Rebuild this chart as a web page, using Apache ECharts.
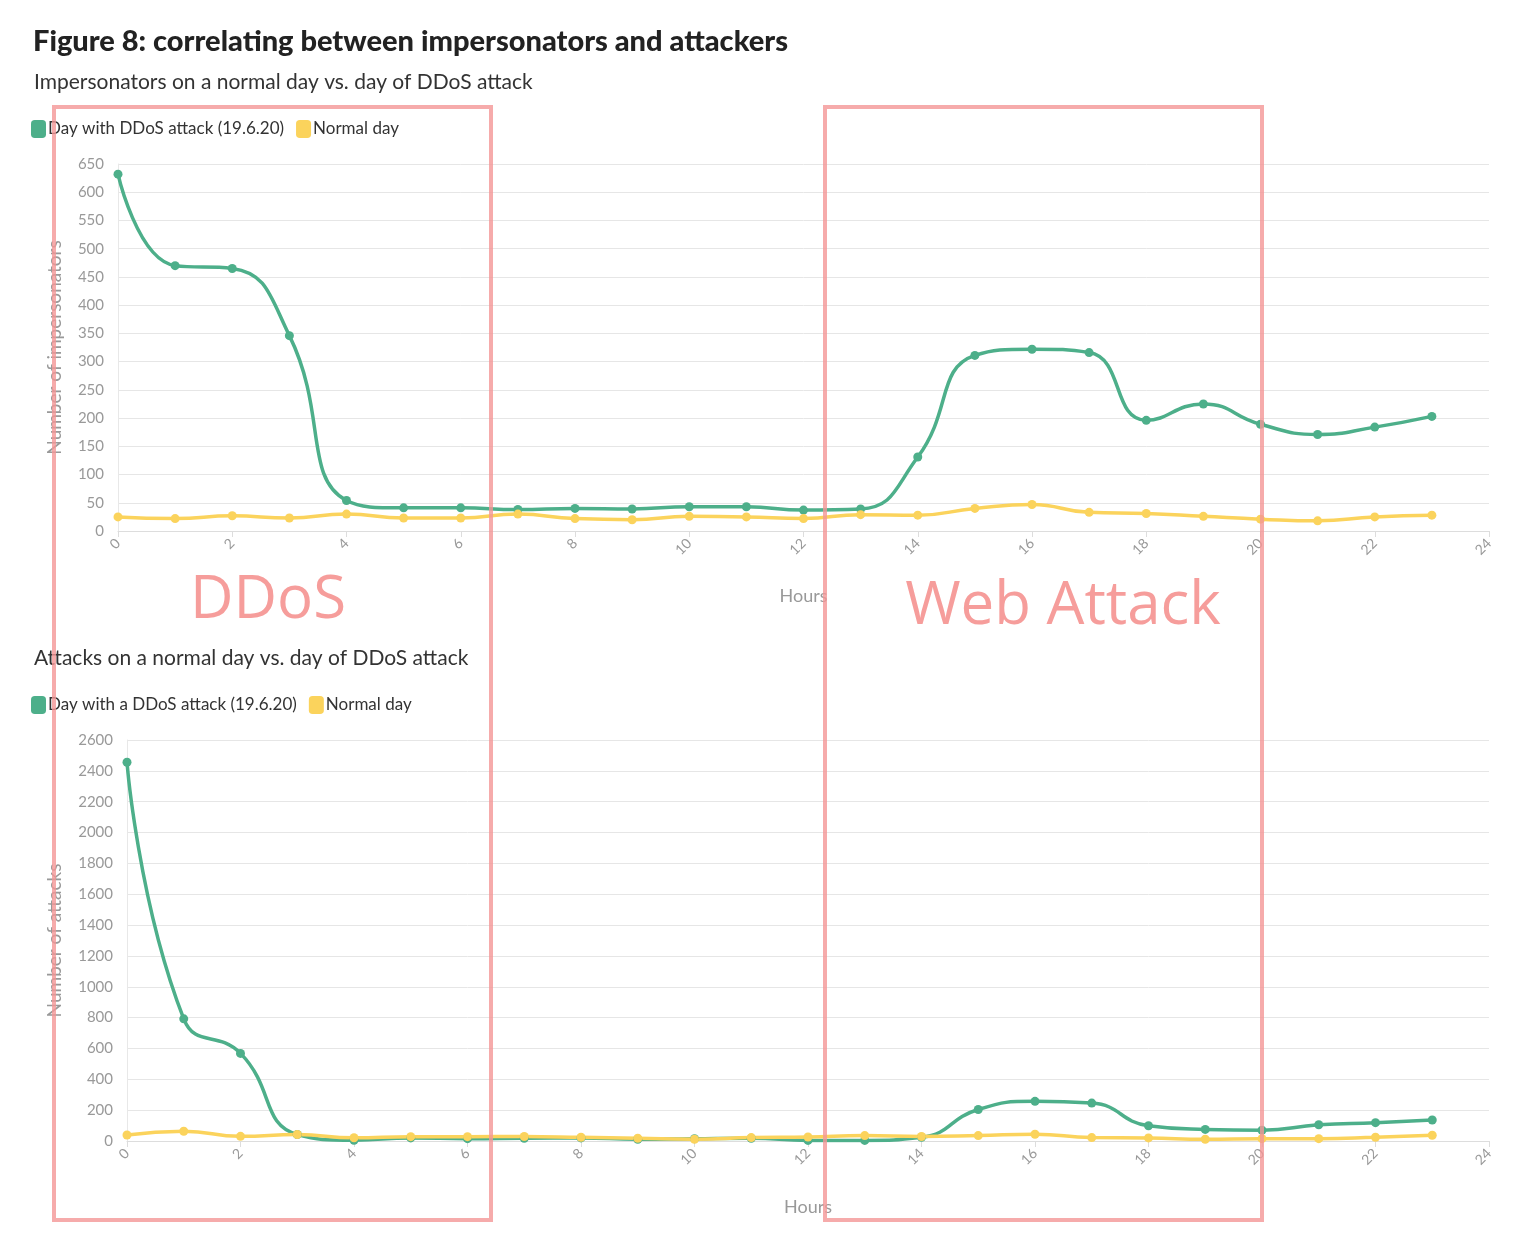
<!DOCTYPE html>
<html>
<head>
<meta charset="utf-8">
<script src="https://cdn.jsdelivr.net/npm/echarts@6/dist/echarts.min.js"></script>
<style>
html,body{margin:0;padding:0;background:#fff;}
#chart{width:1536px;height:1260px;}
</style>
</head>
<body>
<div id="chart"></div>
<script>
const hours = [0,1,2,3,4,5,6,7,8,9,10,11,12,13,14,15,16,17,18,19,20,21,22,23];
const impDDoS = [632,470,465,346,54,41,41,38,40,39,43,43,37,39,131,311,322,316,196,225,189,171,184,203];
const impNormal = [25,22,27,23,30,23,23,30,22,20,26,25,22,29,28,40,47,33,31,26,21,18,25,28];
const attDDoS = [2456,792,568,42,5,20,15,18,20,11,15,18,4,4,24,204,257,246,99,75,70,105,119,136];
const attNormal = [39,63,30,42,21,28,28,29,24,18,11,22,26,35,29,35,44,22,20,11,15,15,24,37];

const FONT = 'Lato';
const GREEN = '#4daf8a';
const YELLOW = '#fbd35c';
const pairs = (arr) => hours.map((h, i) => [h, arr[i]]);

const chart = echarts.init(document.getElementById('chart'));

function xAxisFor(gridIndex, gap) {
  return {
    type: 'value', gridIndex, min: 0, max: 24, interval: 2,
    name: 'Hours', nameLocation: 'middle', nameGap: gap,
    nameTextStyle: {color: '#999', fontSize: 18, fontFamily: FONT},
    axisLine: {show: true, lineStyle: {color: '#ddd'}},
    axisTick: {show: true, lineStyle: {color: '#ddd'}, length: 6},
    axisLabel: {rotate: 45, color: '#999', fontSize: 14, fontFamily: FONT, margin: 10},
    splitLine: {show: false}
  };
}
function yAxisFor(gridIndex, max, interval, name, gap) {
  return {
    type: 'value', gridIndex, min: 0, max, interval,
    name, nameLocation: 'middle', nameGap: gap,
    nameTextStyle: {color: '#999', fontSize: 19, fontFamily: FONT},
    axisLine: {show: true, lineStyle: {color: '#e8e8e8'}},
    axisTick: {show: false},
    axisLabel: {color: '#999', fontSize: 15, fontFamily: FONT, margin: 14, formatter: (v) => String(v)},
    splitLine: {show: true, lineStyle: {color: '#e6e6e6', width: 1}}
  };
}
function line(name, data, color, xi, yi) {
  return {
    name, type: 'line', xAxisIndex: xi, yAxisIndex: yi, data,
    smooth: 0.5, symbol: 'circle', symbolSize: 9, showSymbol: true,
    lineStyle: {color, width: 3.5}, itemStyle: {color}
  };
}

const boxStyle = {fill: 'none', stroke: 'rgba(244,150,150,0.8)', lineWidth: 4};
const annoStyle = {fill: '#f69d9b', fontFamily: 'Open Sans', fontSize: 60};
const legendText = {fontFamily: FONT, fontSize: 17, color: '#333', padding: [0,0,0,-3]};

chart.setOption({
  animation: false,
  backgroundColor: '#fff',
  title: [
    {text: 'Figure 8: correlating between impersonators and attackers', left: 28, top: 22,
     textStyle: {fontFamily: FONT, fontWeight: 900, fontSize: 29, color: '#222'}},
    {text: 'Impersonators on a normal day vs. day of DDoS attack', left: 29, top: 67,
     textStyle: {fontFamily: FONT, fontWeight: 'normal', fontSize: 21, color: '#333'}},
    {text: 'Attacks on a normal day vs. day of DDoS attack', left: 29, top: 643,
     textStyle: {fontFamily: FONT, fontWeight: 'normal', fontSize: 21, color: '#333'}}
  ],
  legend: [
    {data: ['Day with DDoS attack (19.6.20)', 'Normal day'], left: 26, top: 115,
     icon: 'roundRect', itemWidth: 15, itemHeight: 18, itemGap: 12, textStyle: legendText},
    {data: ['Day with a DDoS attack (19.6.20)', 'Normal day '], left: 26, top: 691,
     icon: 'roundRect', itemWidth: 15, itemHeight: 18, itemGap: 12, textStyle: legendText}
  ],
  grid: [
    {left: 118, right: 47, top: 164, height: 367},
    {left: 127, right: 47, top: 740, height: 401}
  ],
  xAxis: [xAxisFor(0, 56), xAxisFor(1, 57)],
  yAxis: [
    yAxisFor(0, 650, 50, 'Number of impersonators', 54),
    yAxisFor(1, 2600, 200, 'Number of attacks', 63)
  ],
  series: [
    line('Day with DDoS attack (19.6.20)', pairs(impDDoS), GREEN, 0, 0),
    line('Normal day', pairs(impNormal), YELLOW, 0, 0),
    line('Day with a DDoS attack (19.6.20)', pairs(attDDoS), GREEN, 1, 1),
    line('Normal day ', pairs(attNormal), YELLOW, 1, 1)
  ],
  graphic: [
    {type: 'rect', z: 100, shape: {x: 54, y: 107, width: 437, height: 1113}, style: boxStyle},
    {type: 'rect', z: 100, shape: {x: 825, y: 107, width: 437, height: 1113}, style: boxStyle},
    {type: 'text', z: 100, x: 268, y: 601, style: Object.assign({text: 'DDoS', textAlign: 'center', textVerticalAlign: 'middle'}, annoStyle)},
    {type: 'text', z: 100, x: 1063, y: 607, style: Object.assign({text: 'Web Attack', textAlign: 'center', textVerticalAlign: 'middle'}, annoStyle)}
  ]
});
</script>
</body>
</html>
